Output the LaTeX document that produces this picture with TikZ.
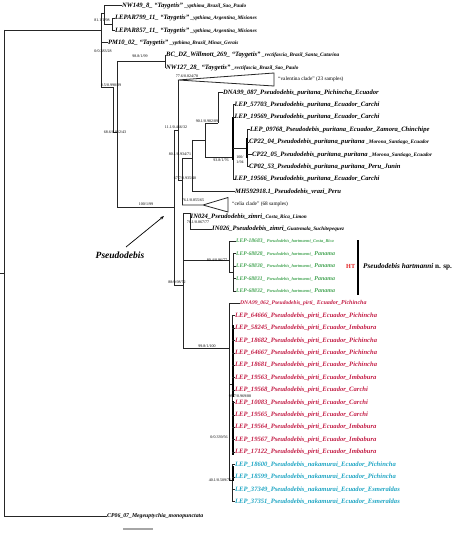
\documentclass[tikz,border=0pt]{standalone}
\usepackage{fontspec}
\setmainfont{Liberation Serif}
\usetikzlibrary{arrows.meta}
\newcommand\tipfont{\fontsize{6.6}{7}\selectfont\bfseries\itshape}
\newcommand\smf{\fontsize{5.2}{6}\selectfont}
\newcommand\hmf{\fontsize{5.6}{6}\selectfont}
\newcommand\hsf{\fontsize{4.4}{5}\selectfont}
\newcommand\hpf{\fontsize{6}{7}\selectfont}
\newcommand\supfont{\fontsize{4}{4.5}\selectfont}
\definecolor{hgreen}{RGB}{70,165,85}
\definecolor{pred}{RGB}{195,30,70}
\definecolor{ncyan}{RGB}{30,165,195}
\definecolor{htred}{RGB}{225,30,30}
\tikzset{
 br/.style={draw=black!85, line width=0.8pt},
 tk/.style={draw=black, line width=1.6pt},
 tip/.style={anchor=west, inner sep=0pt, font=\tipfont},
 supp/.style={inner sep=0pt, font=\supfont},
 clade/.style={anchor=west, inner sep=0pt, font=\fontsize{5.3}{6}\selectfont},
}
\begin{document}
\begin{tikzpicture}[x=1pt,y=-1pt]
\useasboundingbox (0,0) rectangle (474,534);
% ---------- tips ----------
\node[tip] (t1) at (122,5.7) {NW149\_8\_ ``Taygetis'' {\smf\_ypthima\_Brazil\_Sao\_Paulo}};
\node[tip] (t2) at (115,18.1) {LEPAR799\_11\_ ``Taygetis'' {\smf\_ypthima\_Argentina\_Misiones}};
\node[tip] (t3) at (115,30.5) {LEPAR857\_11\_ ``Taygetis'' {\smf\_ypthima\_Argentina\_Misiones}};
\node[tip] (t4) at (108,42.9) {PM10\_02\_ ``Taygetis'' {\smf\_ypthima\_Brazil\_Minas\_Gerais}};
\node[tip] (t5) at (166,55.3) {BC\_DZ\_Willmott\_269\_ ``Taygetis'' {\smf\_rectifascia\_Brazil\_Santa\_Catarina}};
\node[tip] (t6) at (166,67.7) {NW127\_28\_ ``Taygetis'' {\smf\_rectifascia\_Brazil\_Sao\_Paulo}};
\node[clade] (t7) at (278,79.5) {``valentina clade'' (23 samples)};
\node[tip] (t8) at (223,92.5) {DNA99\_087\_Pseudodebis\_puritana\_Pichincha\_Ecuador};
\node[tip] (t9) at (234.5,104.9) {LEP\_57703\_Pseudodebis\_puritana\_Ecuador\_Carchi};
\node[tip] (t10) at (234.5,117.3) {LEP\_19569\_Pseudodebis\_puritana\_Ecuador\_Carchi};
\node[tip] (t11) at (250,129.7) {LEP\_09768\_Pseudodebis\_puritana\_Ecuador\_Zamora\_Chinchipe};
\node[tip] (t12) at (249,142.1) {CP22\_04\_Pseudodebis\_puritana\_puritana {\smf\_Morona\_Santiago\_Ecuador}};
\node[tip] (t13) at (252,154.5) {CP22\_05\_Pseudodebis\_puritana\_puritana {\smf\_Morona\_Santiago\_Ecuador}};
\node[tip] (t14) at (249,166.9) {CP02\_53\_Pseudodebis\_puritana\_puritana\_Peru\_Junin};
\node[tip] (t15) at (234.5,179.3) {LEP\_19566\_Pseudodebis\_puritana\_Ecuador\_Carchi};
\node[tip] (t16) at (235,191.7) {MH592918.1\_Pseudodebis\_vrazi\_Peru};
\node[clade] (t17) at (232,204.5) {``celia clade'' (68 samples)};
\node[tip] (t18) at (190.5,216.5) {IN024\_Pseudodebis\_zimri\_{\smf Costa\_Rica\_Limon}};
\node[tip] (t19) at (212,228.9) {IN026\_Pseudodebis\_zimri\_{\smf Guatemala\_Suchitepequez}};
\begin{scope}[every node/.append style={text=hgreen}]
\node[tip] (t20) at (236,241.3) {\hmf LEP-18683\_ {\hsf Pseudodebis\_hartmanni\_Costa\_Rica}};
\node[tip] (t21) at (236,253.7) {\hmf LEP-68828\_ {\hsf Pseudodebis\_hartmanni\_} {\hpf Panama}};
\node[tip] (t22) at (236,266.1) {\hmf LEP-68830\_ {\hsf Pseudodebis\_hartmanni\_} {\hpf Panama}};
\node[tip] (t23) at (236,278.5) {\hmf LEP-68831\_ {\hsf Pseudodebis\_hartmanni\_} {\hpf Panama}};
\node[tip] (t24) at (236,290.9) {\hmf LEP-68832\_ {\hsf Pseudodebis\_hartmanni\_} {\hpf Panama}};
\end{scope}
\begin{scope}[every node/.append style={text=pred}]
\node[tip] (t25) at (240,303.3) {\hmf DNA99\_062\_Pseudodebis\_pirti\_ {\hpf Ecuador\_Pichincha}};
\node[tip] (t26) at (235,315.7) {LEP\_64666\_Pseudodebis\_pirti\_Ecuador\_Pichincha};
\node[tip] (t27) at (235,328.1) {LEP\_58245\_Pseudodebis\_pirti\_Ecuador\_Imbabura};
\node[tip] (t28) at (235,340.5) {LEP\_18682\_Pseudodebis\_pirti\_Ecuador\_Pichincha};
\node[tip] (t29) at (235,352.9) {LEP\_64667\_Pseudodebis\_pirti\_Ecuador\_Pichincha};
\node[tip] (t30) at (235,365.3) {LEP\_18681\_Pseudodebis\_pirti\_Ecuador\_Pichincha};
\node[tip] (t31) at (235,377.7) {LEP\_19563\_Pseudodebis\_pirti\_Ecuador\_Imbabura};
\node[tip] (t32) at (235,390.1) {LEP\_19568\_Pseudodebis\_pirti\_Ecuador\_Carchi};
\node[tip] (t33) at (235,402.5) {LEP\_10083\_Pseudodebis\_pirti\_Ecuador\_Carchi};
\node[tip] (t34) at (235,414.9) {LEP\_19565\_Pseudodebis\_pirti\_Ecuador\_Carchi};
\node[tip] (t35) at (235,427.3) {LEP\_19564\_Pseudodebis\_pirti\_Ecuador\_Imbabura};
\node[tip] (t36) at (235,439.7) {LEP\_19567\_Pseudodebis\_pirti\_Ecuador\_Imbabura};
\node[tip] (t37) at (235,452.1) {LEP\_17122\_Pseudodebis\_pirti\_Ecuador\_Imbabura};
\end{scope}
\begin{scope}[every node/.append style={text=ncyan}]
\node[tip] (t38) at (235,464.5) {LEP\_18600\_Pseudodebis\_nakamurai\_Ecuador\_Pichincha};
\node[tip] (t39) at (235,476.9) {LEP\_18599\_Pseudodebis\_nakamurai\_Ecuador\_Pichincha};
\node[tip] (t40) at (235,489.3) {LEP\_37349\_Pseudodebis\_nakamurai\_Ecuador\_Esmeraldas};
\node[tip] (t41) at (235,501.7) {LEP\_37351\_Pseudodebis\_nakamurai\_Ecuador\_Esmeraldas};
\end{scope}
\node[tip] (t42) at (107,516) {\fontsize{5.8}{6}\selectfont CP06\_07\_Megeuptychia\_monopunctata};
% ---------- branches ----------
\draw[br] (4,30) -- (4,516);
\draw[br] (0,273) -- (4,273);
\draw[br] (4,516) -- (t42.west);
\draw[br] (4,30) -- (101,30);
\draw[br] (101,13) -- (101,87);
\draw[br] (101,13) -- (104,13) (104,5.7) -- (104,24.3);
\draw[br] (104,5.7) -- (t1.west);
\draw[br] (104,24.3) -- (112,24.3) (112,18.1) -- (112,30.5);
\draw[br] (112,18.1) -- (t2.west) (112,30.5) -- (t3.west);
\draw[br] (101,42.9) -- (t4.west);
\draw[br] (101,87) -- (113,87) -- (113,132) -- (117,132);
\draw[br] (117,61.5) -- (117,207);
\draw[br] (117,61.5) -- (165,61.5) (165,55.3) -- (165,67.7);
\draw[br] (165,55.3) -- (t5.west) (165,67.7) -- (t6.west);
% Pseudodebis
\draw[br] (117,207) -- (174,207) (174,130) -- (174,285);
\draw[br] (174,130) -- (178,130) (178,80) -- (178,180);
\draw[br] (178,80) -- (274,73) -- (274,86) -- cycle;
\draw[br] (178,180) -- (182,180) (182,158) -- (182,205);
\draw[br] (182,205) -- (203,205) (203,205) -- (228,197.5) -- (228,212) -- cycle;
\draw[br] (182,158) -- (192,158) (192,140) -- (192,191.7);
\draw[br] (192,191.7) -- (t16.west);
\draw[br] (192,140) -- (205,140) (205,123) -- (205,157);
\draw[br] (205,123) -- (218,123) (218,92.5) -- (218,123);
\draw[br] (218,92.5) -- (t8.west);
\draw[br] (205,157) -- (233,157) (233,104.9) -- (233,179.3);
\draw[tk] (233,117) -- (233,160);
\draw[br] (233,104.9) -- (t9.west) (233,117.3) -- (t10.west) (233,179.3) -- (t15.west);
\draw[br] (233,148) -- (247,148) (247,129.7) -- (247,166.9);
\draw[tk] (247,138) -- (247,158);
\draw[br] (247,129.7) -- (t11.west) (247,142.1) -- (t12.west) (247,154.5) -- (t13.west) (247,166.9) -- (t14.west);
% zimri / hartmanni / pirti / nakamurai
\draw[br] (174,285) -- (183,285) (183,213) -- (183,348);
\draw[br] (183,213) -- (190,213) (190,213) -- (190,228.9);
\draw[br] (190,216.5) -- (t18.west) (190,228.9) -- (t19.west);
\draw[br] (183,260) -- (229,260) (229,241.3) -- (229,272);
\draw[br] (229,241.3) -- (t20.west);
\draw[br] (229,272) -- (233,272) (233,253.7) -- (233,290.9);
\foreach \t/\y in {t21/253.7,t22/266.1,t23/278.5,t24/290.9} \draw[br] (233,\y) -- (\t.west);
\draw[br] (183,348) -- (229,348) (229,303.3) -- (229,480);
\draw[br] (229,303.3) -- (t25.west);
\draw[br] (229,384) -- (232,384) (232,315.7) -- (232,452.1);
\draw[tk] (233,325) -- (233,397) (233,401) -- (233,455);
\foreach \t/\y in {t26/315.7,t27/328.1,t28/340.5,t29/352.9,t30/365.3,t31/377.7,t32/390.1,t33/402.5,t34/414.9,t35/427.3,t36/439.7,t37/452.1} \draw[br] (232,\y) -- (\t.west);
\draw[br] (229,480) -- (232,480) (232,464.5) -- (232,501.7);
\draw[tk] (233,466) -- (233,481);
\foreach \t/\y in {t38/464.5,t39/476.9,t40/489.3,t41/501.7} \draw[br] (232,\y) -- (\t.west);
% ---------- support values ----------
\node[supp] (s1) at (102,20.5) {81.1/1/98};
\node[supp] (s2) at (103,51.7) {0/0.383/28};
\node[supp] (s3) at (140,56) {98.8/1/99};
\node[supp] (s4) at (187,76) {77.6/0.824/78};
\node[supp] (s5) at (111,85) {8.5/0.998/39};
\node[supp] (s6) at (115,132) {68.6/0.812/43};
\node[supp] (s7) at (176,127) {11.1/0.466/32};
\node[supp] (s8) at (207,121) {90.1/0.982/89};
\node[supp] (s9) at (180,154) {80.1/0.934/71};
\node[supp] (s10) at (221,160) {93.8/1/76};
\node[supp,align=center] (s11) at (240,159.5) {100/\\1/94};
\node[supp] (s12) at (185,178) {67.7/0.935/40};
\node[supp] (s13) at (193,200) {76.1/0.855/65};
\node[supp] (s14) at (146,204) {100/1/99};
\node[supp] (s15) at (198,222) {76.1/0.867/77};
\node[supp] (s16) at (217,260) {80.4/0.96/77};
\node[supp] (s17) at (177,282) {88/0.98/72};
\node[supp] (s18) at (207,346) {99.8/1/100};
\node[supp] (s19) at (240,396) {99.7/0.969/88};
\node[supp] (s20) at (219,437) {0/0.339/56};
\node[supp] (s21) at (220,480) {40.1/0.509/76};
% ---------- annotations ----------
\node[anchor=west,inner sep=0pt,text=htred,font=\fontsize{6.2}{7}\selectfont\bfseries] (ht) at (346,266.5) {HT};
\coordinate (bt) at (358,240);
\coordinate (bb) at (358,295);
\draw[line width=1.5pt] (bt) -- (bb);
\node[anchor=west,inner sep=0pt,font=\fontsize{7.2}{8}\selectfont\bfseries] (hart) at (363,267) {\textit{Pseudodebis hartmanni} n. sp.};
\node[inner sep=0pt,font=\fontsize{9.5}{10}\selectfont\bfseries\itshape] (plab) at (120,255) {Pseudodebis};
\coordinate (a1) at (126,247);
\coordinate (a2) at (164,216);
\draw[-{Stealth[length=4pt,width=3pt]},line width=0.7pt] (a1) -- (a2);
\coordinate (sb1) at (123,529);
\coordinate (sb2) at (153,529);
\draw[gray!70,line width=1.5pt] (sb1) -- (sb2);
\end{tikzpicture}
\end{document}
